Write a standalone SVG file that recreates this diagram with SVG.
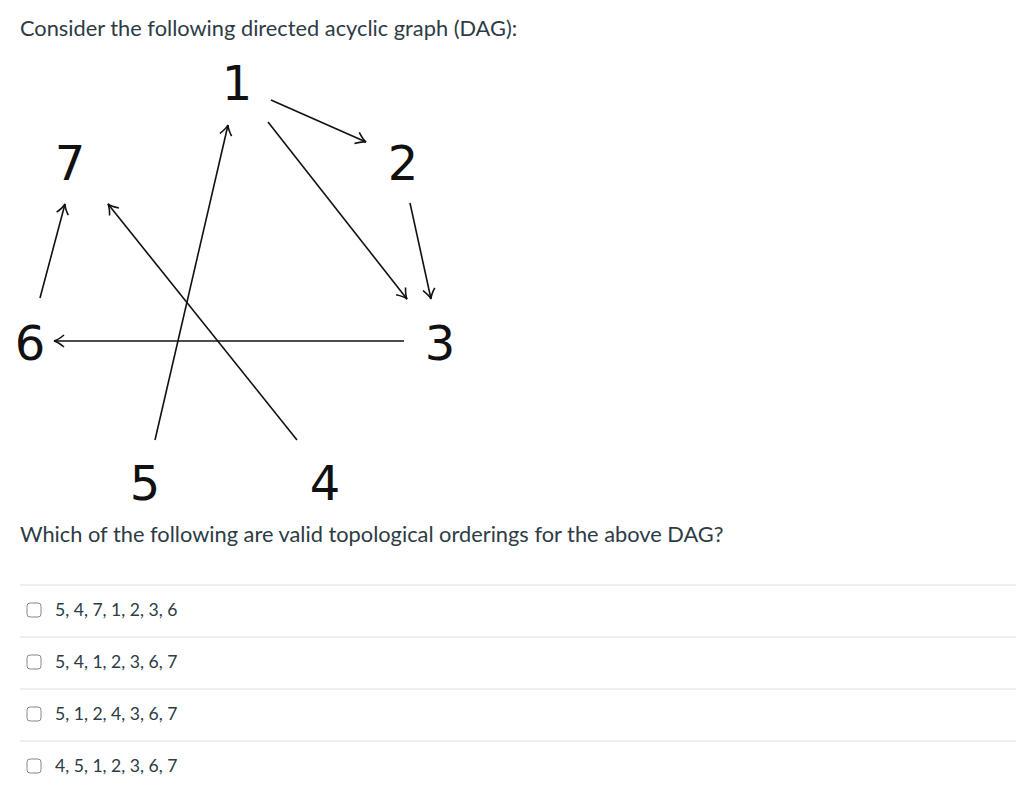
<svg xmlns="http://www.w3.org/2000/svg" width="1024" height="805" viewBox="0 0 1024 805">
<style>
.t{font-family:"Lato","Liberation Sans",sans-serif;fill:#2d3b45}
.q{font-size:21.8px}
.o{font-size:17.6px}
.n{font-family:"DejaVu Sans","Liberation Sans",sans-serif;font-size:48px;fill:#111;text-anchor:middle}
.e{stroke:#111;stroke-width:1.6;fill:none;marker-end:url(#a)}
.sep{stroke:#ddd;stroke-width:1}
.cb{fill:#fff;stroke:#888;stroke-width:1}
</style>
<defs>
<marker id="a" viewBox="-12 -8 14 16" refX="0" refY="0" markerWidth="14" markerHeight="16" markerUnits="userSpaceOnUse" orient="auto">
<path d="M-10,-6 Q-4,-1 0,0 Q-4,1 -10,6" fill="none" stroke="#111" stroke-width="1.6"/>
</marker>
</defs>
<rect width="1024" height="805" fill="#fff"/>
<text class="t q" x="20" y="36">Consider the following directed acyclic graph (DAG):</text>
<g id="edges">
<line class="e" x1="271" y1="100" x2="366" y2="142"/>
<line class="e" x1="268" y1="122" x2="407" y2="299"/>
<line class="e" x1="410" y1="203" x2="431" y2="299"/>
<line class="e" x1="404" y1="341" x2="54" y2="341"/>
<line class="e" x1="155" y1="440" x2="228" y2="125"/>
<line class="e" x1="297" y1="440" x2="108" y2="204"/>
<line class="e" x1="40" y1="298" x2="65" y2="204"/>
</g>
<g id="n1"><text class="n" x="237" y="100">1</text></g>
<g id="n2"><text class="n" x="403" y="180">2</text></g>
<g id="n3"><text class="n" x="440" y="360">3</text></g>
<g id="n4"><text class="n" x="325" y="500">4</text></g>
<g id="n5"><text class="n" x="145" y="500">5</text></g>
<g id="n6"><text class="n" x="30" y="360">6</text></g>
<g id="n7"><text class="n" x="70" y="180">7</text></g>
<text class="t q" x="20" y="542">Which of the following are valid topological orderings for the above DAG?</text>
<line class="sep" x1="20" y1="585" x2="1016" y2="585"/>
<line class="sep" x1="20" y1="637" x2="1016" y2="637"/>
<line class="sep" x1="20" y1="689" x2="1016" y2="689"/>
<line class="sep" x1="20" y1="741" x2="1016" y2="741"/>
<rect class="cb" x="27" y="603" width="14" height="14" rx="3"/>
<rect class="cb" x="27" y="655" width="14" height="14" rx="3"/>
<rect class="cb" x="27" y="707" width="14" height="14" rx="3"/>
<rect class="cb" x="27" y="759" width="14" height="14" rx="3"/>
<text class="t o" x="55" y="616">5, 4, 7, 1, 2, 3, 6</text>
<text class="t o" x="55" y="668">5, 4, 1, 2, 3, 6, 7</text>
<text class="t o" x="55" y="720">5, 1, 2, 4, 3, 6, 7</text>
<text class="t o" x="55" y="772">4, 5, 1, 2, 3, 6, 7</text>
</svg>
